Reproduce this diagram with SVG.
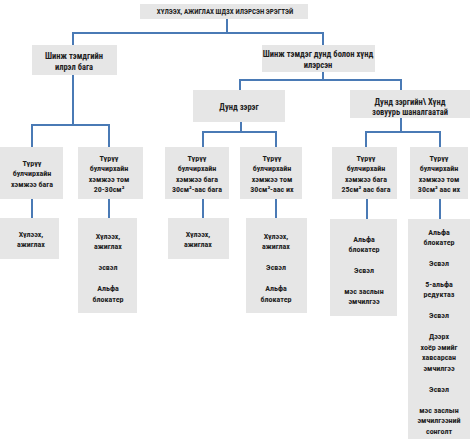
<svg xmlns="http://www.w3.org/2000/svg" width="474" height="439" viewBox="0 0 474 439">
<style>
.bx{fill:#e6e6e6}
.t{font-family:"Liberation Sans Narrow","Roboto Condensed","DejaVu Sans Condensed","Roboto",sans-serif;font-weight:bold;font-size:8px;fill:#1e1e1e;text-anchor:middle;dominant-baseline:central}
.t1{font-size:8.5px}
.t0{font-size:7px}
.c{stroke:#4a7ab5;stroke-width:2;fill:none}
</style>
<rect width="474" height="439" fill="#ffffff"/>
<g id="connectors">
<path class="c" d="M227 19V33M73 33H323M73 32V45M323 32V45"/>
<path class="c" d="M73 75V125M32 125H109M32 124V147M109 124V147"/>
<path class="c" d="M323 72V80M240 80H401M240 79V90M401 79V90"/>
<path class="c" d="M241 122V132M203 132H276M203 131V147M276 131V147"/>
<path class="c" d="M401 118V132M366 132H440M366 131V147M440 131V147"/>
<path class="c" d="M32 199V218M109 199V218M203 199V218M276 199V218M367 199V219M440 199V219"/>
</g>
<g id="n-top"><rect class="bx" x="140" y="4" width="168" height="15"/><text class="t t0" x="225" y="11.5">ХҮЛЭЭХ, АЖИГЛАХ ШДЗХ ИЛЭРСЭН ЭРЭГТЭЙ</text></g>
<g id="n-low"><rect class="bx" x="32" y="45" width="85" height="30"/><text class="t t1" x="74" y="56">Шинж тэмдгийн</text><text class="t t1" x="74" y="67">илрэл бага</text></g>
<g id="n-high"><rect class="bx" x="262" y="45" width="113" height="27"/><text class="t t1" x="318" y="54">Шинж тэмдэг дунд болон хүнд</text><text class="t t1" x="318" y="65">илэрсэн</text></g>
<g id="n-mid"><rect class="bx" x="193" y="90" width="92" height="32"/><text class="t t1" x="239" y="107">Дунд зэрэг</text></g>
<g id="n-severe"><rect class="bx" x="350" y="90" width="120" height="28"/><text class="t t1" x="410" y="101.5">Дунд зэргийн\ Хүнд</text><text class="t t1" x="410" y="111.5">зовуурь шаналгаатай</text></g>
<g id="n-a1"><rect class="bx" x="0" y="147" width="63" height="52"/><text class="t" x="32" y="163">Түрүү</text><text class="t" x="32" y="173.5">булчирхайн</text><text class="t" x="32" y="184">хэмжээ бага</text></g>
<g id="n-a2"><rect class="bx" x="78" y="147" width="65" height="52"/><text class="t" x="109" y="158">Түрүү</text><text class="t" x="109" y="168.5">булчирхайн</text><text class="t" x="109" y="179">хэмжээ том</text><text class="t" x="109" y="189.5">20-30см³</text></g>
<g id="n-a3"><rect class="bx" x="165" y="147" width="64" height="52"/><text class="t" x="197" y="158">Түрүү</text><text class="t" x="197" y="168.5">булчирхайн</text><text class="t" x="197" y="179">хэмжээ бага</text><text class="t" x="197" y="189.5">30см³-аас бага</text></g>
<g id="n-a4"><rect class="bx" x="240" y="147" width="62" height="52"/><text class="t" x="272" y="158">Түрүү</text><text class="t" x="272" y="168.5">булчирхайн</text><text class="t" x="272" y="179">хэмжээ том</text><text class="t" x="272" y="189.5">30см³-аас их</text></g>
<g id="n-a5"><rect class="bx" x="332" y="147" width="65" height="52"/><text class="t" x="366" y="158">Түрүү</text><text class="t" x="366" y="168.5">булчирхайн</text><text class="t" x="366" y="179">хэмжээ бага</text><text class="t" x="366" y="189.5">25см³ аас бага</text></g>
<g id="n-a6"><rect class="bx" x="410" y="147" width="58" height="52"/><text class="t" x="439" y="158">Түрүү</text><text class="t" x="439" y="168.5">булчирхайн</text><text class="t" x="439" y="179">хэмжээ том</text><text class="t" x="439" y="189.5">30см³ аас их</text></g>
<g id="n-b1"><rect class="bx" x="0" y="218" width="59" height="41"/><text class="t" x="31" y="234">Хүлээх,</text><text class="t" x="31" y="244.5">ажиглах</text></g>
<g id="n-b2"><rect class="bx" x="78" y="218" width="59" height="95"/><text class="t" x="108" y="236">Хүлээх,</text><text class="t" x="108" y="246.5">ажиглах</text><text class="t" x="108" y="267.5">эсвэл</text><text class="t" x="108" y="288.5">Альфа</text><text class="t" x="108" y="299">блокатер</text></g>
<g id="n-b3"><rect class="bx" x="168" y="218" width="61" height="41"/><text class="t" x="198" y="234">Хүлээх,</text><text class="t" x="198" y="244.5">ажиглах</text></g>
<g id="n-b4"><rect class="bx" x="246" y="218" width="61" height="95"/><text class="t" x="276" y="236">Хүлээх,</text><text class="t" x="276" y="246.5">ажиглах</text><text class="t" x="276" y="267.5">Эсвэл</text><text class="t" x="276" y="288.5">Альфа</text><text class="t" x="276" y="299">блокатер</text></g>
<g id="n-b5"><rect class="bx" x="330" y="219" width="67" height="97"/><text class="t" x="364" y="239">Альфа</text><text class="t" x="364" y="249.5">блокатер</text><text class="t" x="364" y="270">Эсвэл</text><text class="t" x="364" y="291">мэс заслын</text><text class="t" x="364" y="301.5">эмчилгээ</text></g>
<g id="n-b6"><rect class="bx" x="408" y="219" width="62" height="220"/><text class="t" x="439" y="232">Альфа</text><text class="t" x="439" y="242.5">блокатер</text><text class="t" x="439" y="263">Эсвэл</text><text class="t" x="439" y="284">5-альфа</text><text class="t" x="439" y="294.5">редуктаз</text><text class="t" x="439" y="315.5">Эсвэл</text><text class="t" x="439" y="336.5">Дээрх</text><text class="t" x="439" y="347">хоёр эмийг</text><text class="t" x="439" y="357.5">хавсарсан</text><text class="t" x="439" y="368">эмчилгээ</text><text class="t" x="439" y="389">Эсвэл</text><text class="t" x="439" y="410">мэс заслын</text><text class="t" x="439" y="420.5">эмчилгээний</text><text class="t" x="439" y="431">сонголт</text></g>
</svg>
